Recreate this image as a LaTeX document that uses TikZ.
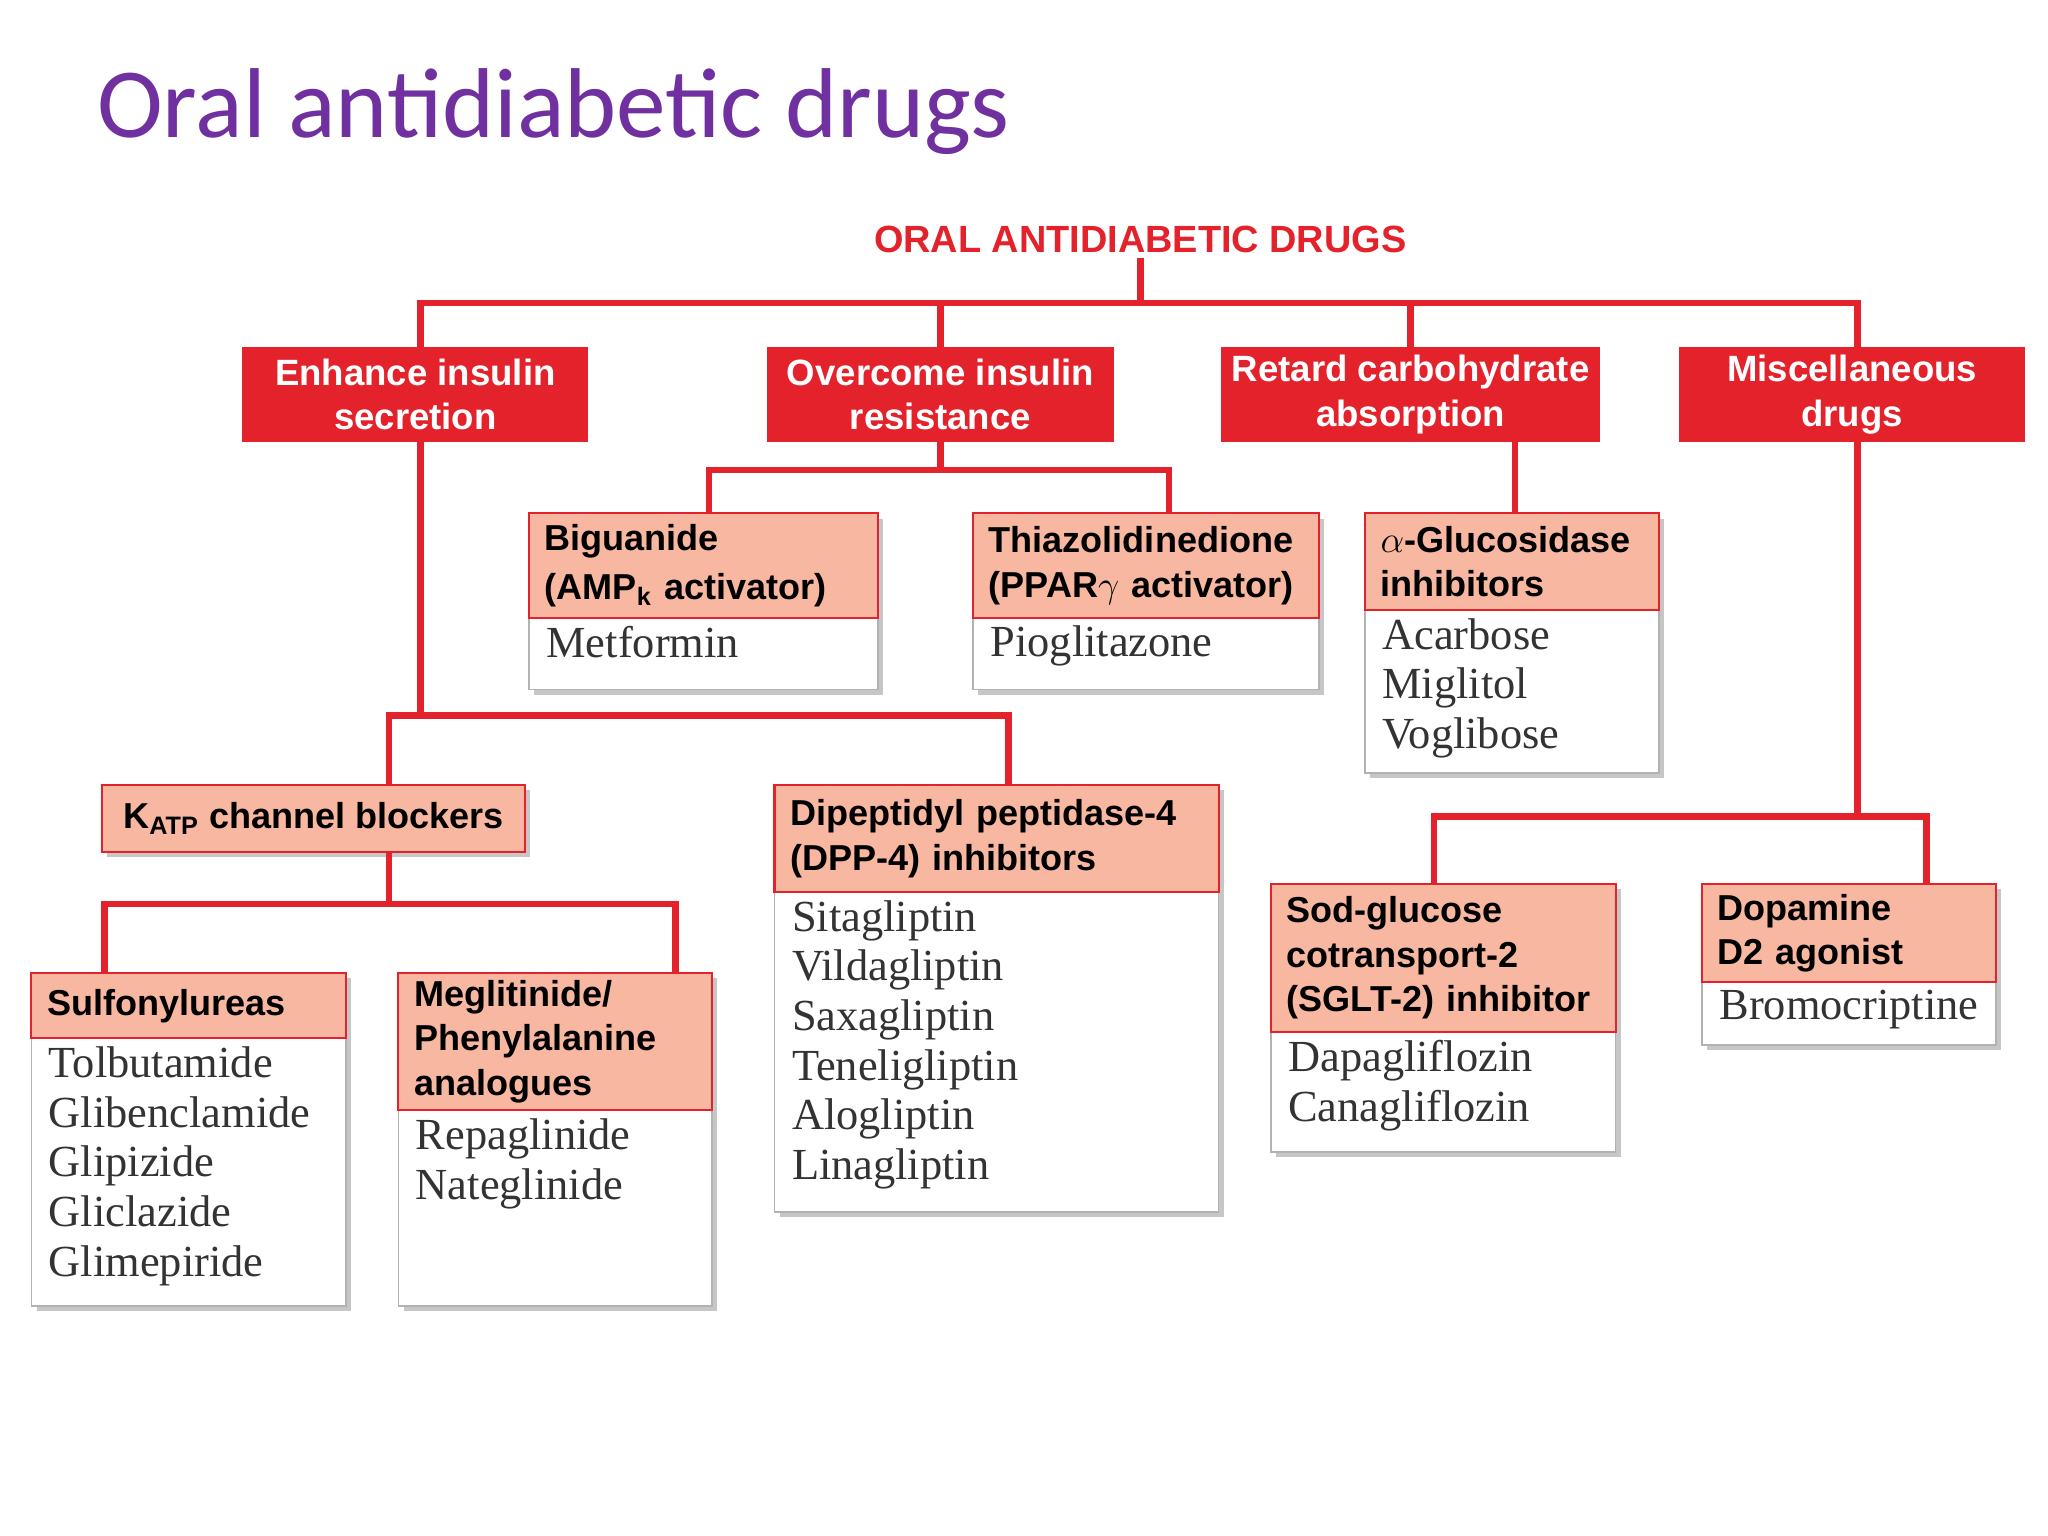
\documentclass[tikz,border=0pt]{standalone}
\usepackage{fontspec}
\setmainfont{Liberation Serif}
\setsansfont{Liberation Sans}
\newfontfamily\titlefont{Carlito}
\definecolor{rd}{HTML}{E3222B}
\definecolor{sal}{HTML}{F8B7A0}
\definecolor{pur}{HTML}{7030A0}
\tikzset{
  conn/.style={draw=rd, line width=2.5pt},
  redbox/.style={fill=rd, text=white, font=\sffamily\bfseries\fontsize{14}{17}\selectfont, align=center, inner sep=0pt, outer sep=0pt},
  hdr/.style={fill=sal, draw=rd, line width=0.8pt, font=\sffamily\bfseries\fontsize{13.8}{17}\selectfont, align=left, inner sep=0pt, outer sep=0pt},
  bodytxt/.style={font=\fontsize{17}{19}\selectfont\color{black!80}, align=left, inner sep=0pt, anchor=north west},
}
% name, x1, y1, ymid, x2, y2, header, body
\newcommand\subbox[8]{%
  \fill[gray!45] (#2+4,#3+4) rectangle (#5+4,#6+4);
  \filldraw[fill=white, draw=gray!60, line width=0.6pt] (#2,#3) rectangle (#5,#6);
  \node[hdr, anchor=north west, minimum width={(#5-#2)*0.5pt}, minimum height={(#4-#3)*0.5pt}] (#1) at (#2,#3) {};
  \node[hdr, draw=none, fill=none, anchor=west, text width={(#5-#2)*0.5pt-10pt}] at ([xshift=6pt]#1.west) {#7};
  \node[bodytxt] (#1b) at (#2+13,#4+6) {#8};
}
\begin{document}
\begin{tikzpicture}[x=0.5pt,y=-0.5pt]
\useasboundingbox[fill=white] (0,0) rectangle (1568,1176);
\node[anchor=base west, text=pur, font=\titlefont\fontsize{38}{42}\selectfont, inner sep=0pt] (title) at (74,105) {Oral antidiabetic drugs};
\node[text=rd, font=\sffamily\bfseries\fontsize{14.5}{16}\selectfont, inner sep=2pt] (top) at (873,183) {ORAL ANTIDIABETIC DRUGS};
\node[redbox, minimum width=132.5pt, minimum height=36.5pt] (hA) at (318,302) {Enhance insulin\\secretion};
\node[redbox, minimum width=133pt, minimum height=36.5pt] (hB) at (720,302) {Overcome insulin\\resistance};
\node[redbox, minimum width=145pt, minimum height=36.5pt] (hC) at (1080,302) {Retard carbohydrate\\absorption};
\node[redbox, minimum width=132.5pt, minimum height=36.5pt] (hD) at (1418,302) {Miscellaneous\\drugs};

\subbox{big}{405}{393}{473}{672}{528}{Biguanide\\[2pt](AMP\textsubscript{k} activator)}{Metformin}
\subbox{thz}{745}{393}{473}{1010}{528}{Thiazolidinedione\\(PPAR$\gamma$ activator)}{Pioglitazone}
\subbox{alg}{1045}{393}{467}{1270}{592}{$\alpha$-Glucosidase\\inhibitors}{Acarbose\\Miglitol\\Voglibose}
\fill[gray!45] (82,605) rectangle (406,656);
\node[hdr, anchor=north west, minimum width=162pt, minimum height=25.5pt] (katp) at (78,601) {\hspace{5pt}K\textsubscript{ATP} channel blockers\hspace{5pt}};
\subbox{sul}{24}{745}{795}{265}{1000}{Sulfonylureas}{Tolbutamide\\Glibenclamide\\Glipizide\\Gliclazide\\Glimepiride}
\subbox{meg}{305}{745}{850}{545}{1000}{Meglitinide/\\Phenylalanine\\analogues}{Repaglinide\\Nateglinide}
\subbox{dpp}{593}{601}{683}{933}{928}{Dipeptidyl peptidase-4\\(DPP-4) inhibitors}{Sitagliptin\\Vildagliptin\\Saxagliptin\\Teneligliptin\\Alogliptin\\Linagliptin}
\subbox{sgl}{973}{677}{790}{1237}{882}{Sod-glucose\\cotransport-2\\(SGLT-2) inhibitor}{Dapagliflozin\\Canagliflozin}
\subbox{dop}{1303}{677}{752}{1528}{800}{Dopamine\\D2 agonist}{Bromocriptine}

\coordinate (j0) at (873,232);
\draw[conn] (top.south) -- (j0);
\draw[conn] ([xshift=2pt]hA.north) |- (j0) -| ([xshift=2pt]hD.north);
\draw[conn] (hB.north) -- (hB.north |- j0);
\draw[conn] (hC.north) -- (hC.north |- j0);
\coordinate (j1) at (720,360);
\draw[conn] (hB.south) -- (j1);
\draw[conn] ([xshift=69pt]big.north west) |- (j1) -| ([xshift=75pt]thz.north west);
\draw[conn] ([xshift=57.5pt]alg.north west) -- ([xshift=57.5pt]alg.north west |- hC.south);
\coordinate (j2) at (322,548);
\draw[conn] ([xshift=2pt]hA.south) -- (j2);
\draw[conn] ([xshift=110pt]katp.north west) |- (j2) -| ([xshift=89.5pt]dpp.north west);
\coordinate (j3) at (298,692);
\draw[conn] ([xshift=110pt]katp.south west) -- (j3);
\draw[conn] ([xshift=28pt]sul.north west) |- (j3) -| ([xshift=106pt]meg.north west);
\coordinate (j4) at (1422,625);
\draw[conn] ([xshift=2pt]hD.south) -- (j4);
\draw[conn] ([xshift=62.5pt]sgl.north west) |- (j4) -| ([xshift=86pt]dop.north west);
\end{tikzpicture}
\end{document}
